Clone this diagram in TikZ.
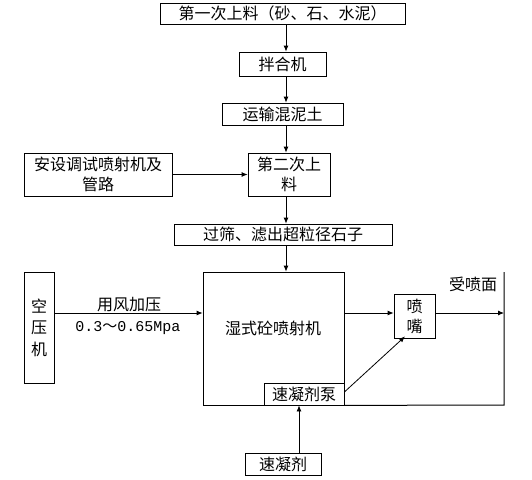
\documentclass[tikz,border=0pt]{standalone}
\usepackage{fontspec}
\setmainfont{Noto Sans CJK SC}
\newfontfamily\latinmono{Liberation Mono}
\usetikzlibrary{arrows.meta}
\tikzset{
  procbox/.style={draw,rectangle,inner sep=0pt,align=center,
    font=\fontsize{16}{20}\selectfont},
  lbl/.style={inner sep=0pt,align=center,font=\fontsize{16}{20}\selectfont},
  flow/.style={-{Latex[length=6pt,width=5pt]},line width=0.8pt},
  faceline/.style={draw=black,line width=1pt}
}

\begin{document}
\begin{tikzpicture}[x=1pt,y=-1pt,line width=0.8pt]
\useasboundingbox (0,0) rectangle (532,479);

% Main feed column
\node[procbox,minimum width=245pt,minimum height=21pt] (feedA) at (282.5,13.5) {第一次上料（砂、石、水泥）};
\node[procbox,minimum width=87pt,minimum height=24pt] (mixer) at (282.5,64) {拌合机};
\node[procbox,minimum width=121pt,minimum height=22pt] (transport) at (282.5,114) {运输混泥土};
\node[procbox,minimum width=82pt,minimum height=43pt] (feedB) at (289,174.5) {第二次上\\料};
\node[procbox,minimum width=148pt,minimum height=43pt] (setup) at (98,174.5) {安设调试喷射机及\\管路};
\node[procbox,minimum width=218pt,minimum height=21pt] (sieve) at (283,234.5) {过筛、滤出超粒径石子};

% Sprayer and its surroundings
\node[draw,rectangle,minimum width=141pt,minimum height=133pt] (shooter) at (273.5,338.5) {};
\node[lbl] (shooterlbl) at (273,328) {湿式砼喷射机};
\node[procbox,minimum width=80pt,minimum height=22pt,anchor=south east] (pump) at (shooter.south east) {速凝剂泵};
\node[procbox,minimum width=30pt,minimum height=111pt] (air) at (39,327.5) {空\\[1.5pt]压\\[1.5pt]机};
\node[procbox,minimum width=41pt,minimum height=44pt] (nozzle) at (414.5,316) {喷\\嘴};
\node[procbox,minimum width=76pt,minimum height=22pt] (agent) at (283,464) {速凝剂};

% Sprayed surface
\coordinate (faceT) at (504,272);
\coordinate (faceB) at (504,405);
\coordinate (flowy) at (0,313);
\coordinate (colx) at (286,0);
\node[lbl] (facelbl) at (473,284) {受喷面};

% Air line labels
\node[lbl,anchor=south] (pressA) at (129,312) {用风加压};
\node[lbl,font=\latinmono\fontsize{15}{18}\selectfont] (pressB) at (128,328) {0.3{\rmfamily\fontsize{15}{18}\selectfont ～}0.65Mpa};

% Connectors
\draw[flow] (feedA.south -| colx) -- (mixer.north -| colx);
\draw[flow] (mixer.south -| colx) -- (transport.north -| colx);
\draw[flow] (transport.south -| colx) -- (feedB.north -| colx);
\draw[flow] (setup) -- (feedB);
\draw[flow] (feedB.south -| colx) -- (sieve.north -| colx);
\draw[flow] (sieve.south -| colx) -- (shooter.north -| colx);
\draw[flow] (air.east |- flowy) -- (shooter.west |- flowy);
\draw[flow] (shooter.east |- flowy) -- (nozzle.west |- flowy);
\draw[flow] (nozzle.east |- flowy) -- (faceT |- flowy);
\draw[flow] ([yshift=2pt]pump.east) -- ([xshift=-9.5pt,yshift=2pt]nozzle.south);
\draw[flow] ([xshift=16pt]agent.north) -- ([xshift=16pt]agent.north |- pump.south);
\draw[faceline] (shooter.south east) -- (faceB) -- (faceT);

\end{tikzpicture}
\end{document}
